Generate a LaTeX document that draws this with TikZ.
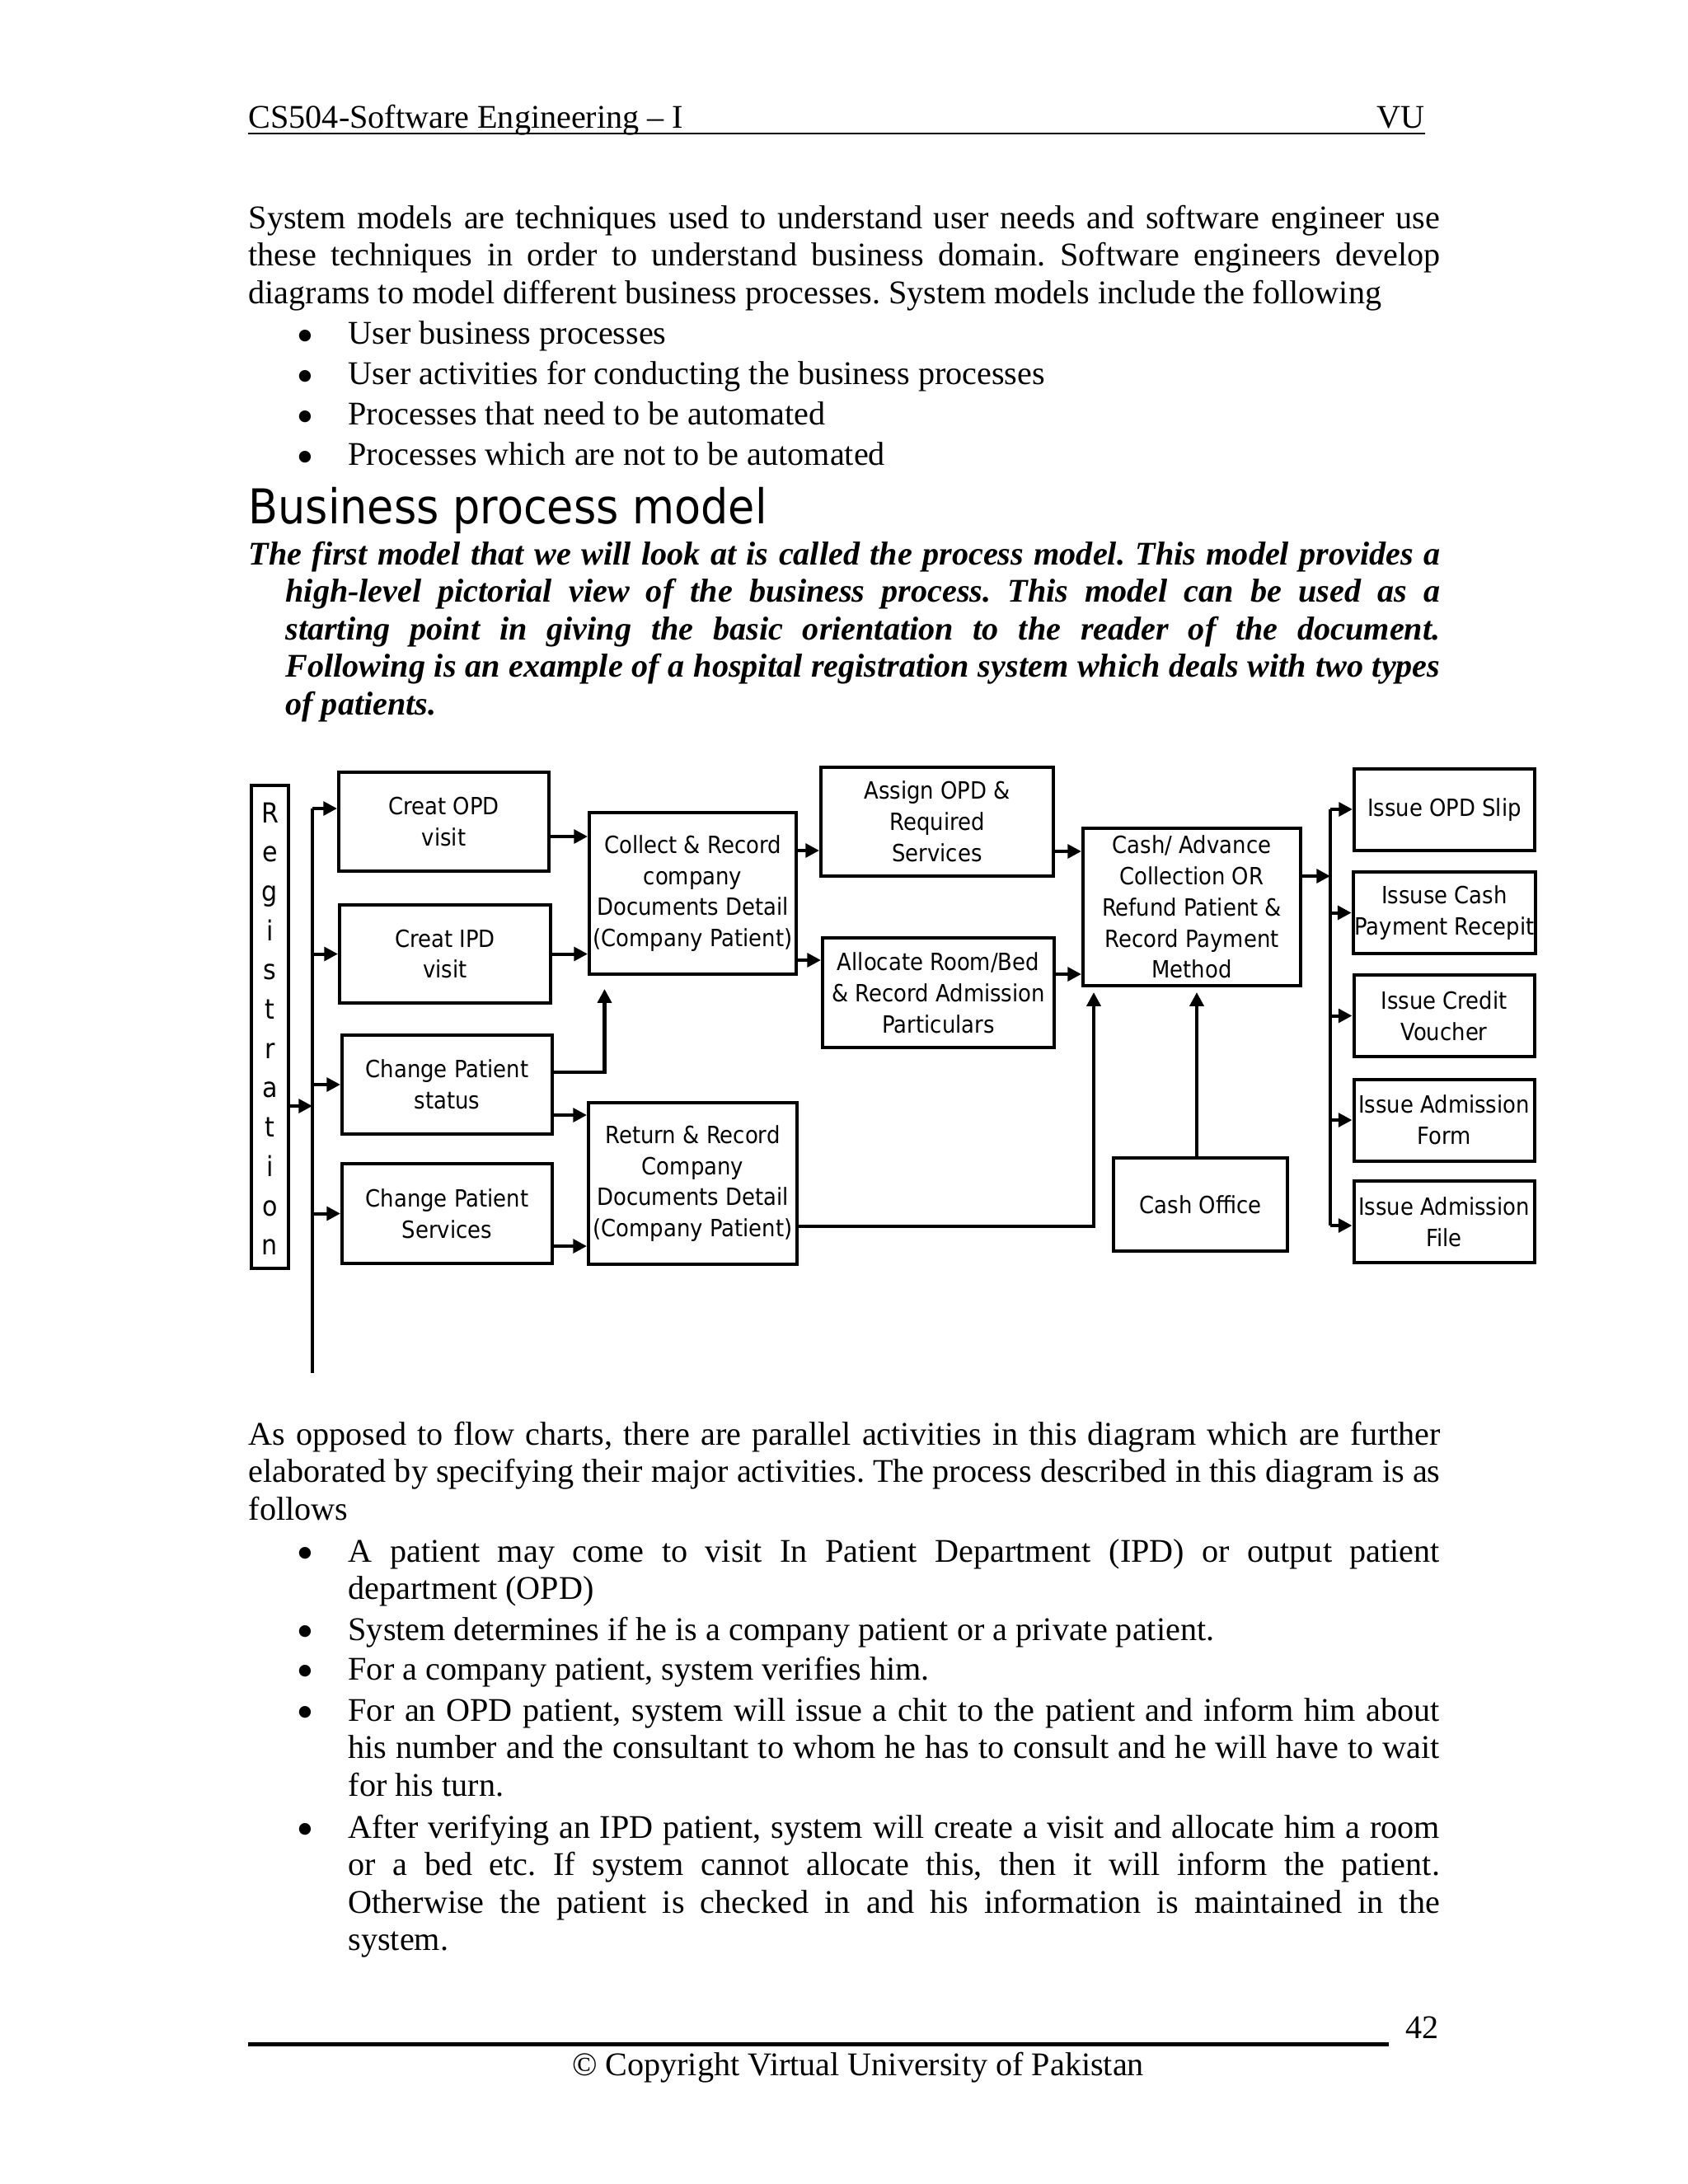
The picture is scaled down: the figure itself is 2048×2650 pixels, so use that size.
\documentclass[tikz,border=0pt]{standalone}
\usepackage{fontspec}
\setmainfont{Liberation Serif}
\newfontfamily\diagfont[FakeStretch=0.9]{DejaVu Sans}
\newfontfamily\dotfont{DejaVu Sans}
\usetikzlibrary{positioning, arrows.meta, calc}
\newdimen\pxu \pxu=0.29883pt

\begin{document}
\frenchspacing
\begin{tikzpicture}[
    x=0.29883pt, y=-0.29883pt,
    >={Triangle[length=5pt,width=5pt]},
    wire/.style={line width=1.2pt},
    arr/.style={wire, ->},
    procbox/.style={draw, line width=1.2pt, align=center, inner xsep=0.5pt, inner ysep=1pt, font=\diagfont\fontsize{8.6}{11.3}\selectfont},
    issuebox/.style={procbox, minimum width=219*\pxu, minimum height=99*\pxu},
    regletter/.style={font=\diagfont\fontsize{10}{12}\selectfont, inner sep=0pt, anchor=base},
    bodytext/.style={anchor=base west, inner sep=0pt, text width=432pt, align=justify, font=\fontsize{12}{13.6}\selectfont},
    itemtext/.style={bodytext, text width=395.7pt},
    bulletdot/.style={anchor=center, inner sep=0pt, font=\dotfont\fontsize{5.6}{7}\selectfont}
]
\useasboundingbox (0,0) rectangle (2048,2650);

% page header
\node[anchor=base west, inner sep=0pt, font=\fontsize{12}{13.6}\selectfont] (hdleft) at (301,155) {CS504-Software Engineering – I};
\node[anchor=base east, inner sep=0pt, font=\fontsize{12}{13.6}\selectfont] (hdright) at (1729,155) {VU};
\draw[line width=0.6pt] (301,162) -- (1729,162);

% opening text
\node[bodytext] (intro) at (301,277) {System models are techniques used to understand user needs and software engineer use\linebreak these techniques in order to understand business domain. Software engineers develop\linebreak diagrams to model different business processes. System models include the following};
\foreach \txt [count=\i] in {User business processes, User activities for conducting the business processes, Processes that need to be automated, Processes which are not to be automated} {
    \node[bulletdot] (dot-\i) at (370,{408+49*(\i-1)}) {●};
    \node[itemtext] (item-\i) at (422,{417+49*(\i-1)}) {\txt};
}

\node[anchor=base west, inner sep=0pt, font=\diagfont\fontsize{17.4}{20}\selectfont] (title) at (301,635) {Business process model};
\node[bodytext, font=\fontsize{12}{13.6}\selectfont\bfseries\itshape] (lead) at (301,685) {\hangindent=13.4pt\hangafter=1 The first model that we will look at is called the process model. This model provides a\linebreak high-level pictorial view of the business process. This model can be used as a\linebreak starting point in giving the basic orientation to the reader of the document.\linebreak Following is an example of a hospital registration system which deals with two types\linebreak of patients.\par};

% 1. registration and first column
\node[procbox, minimum width=45*\pxu, minimum height=586*\pxu] (reg) at (327.5,1246) {};
\foreach \ch [count=\i] in {R,e,g,i,s,t,r,a,t,i,o,n}
    \node[regletter] (reg-\i) at (327.5,{998+47.7*(\i-1)}) {\ch};

\node[procbox, minimum width=255*\pxu, minimum height=120*\pxu] (opd) at (538.5,997) {Creat OPD\\visit};
\node[procbox, minimum width=256*\pxu, minimum height=119*\pxu] (ipd) at (540,1157.5) {Creat IPD\\visit};
\node[procbox, minimum width=255*\pxu, minimum height=120*\pxu] (status) at (542.5,1316) {Change Patient\\status};
\node[procbox, minimum width=255*\pxu, minimum height=121*\pxu] (services) at (542.5,1472.5) {Change Patient\\Services};

% 2. middle columns
\node[procbox, minimum width=251*\pxu, minimum height=196*\pxu] (collect) at (840.5,1084) {Collect \& Record\\company\\Documents Detail\\(Company Patient)};
\node[procbox, minimum width=253*\pxu, minimum height=196*\pxu] (return) at (840.5,1436) {Return \& Record\\Company\\Documents Detail\\(Company Patient)};
\node[procbox, minimum width=282*\pxu, minimum height=132*\pxu] (assign) at (1137,997) {Assign OPD \&\\Required\\Services};
\node[procbox, minimum width=281*\pxu, minimum height=133*\pxu] (alloc) at (1138.5,1204.5) {Allocate Room/Bed\\\& Record Admission\\Particulars};
\node[procbox, minimum width=264*\pxu, minimum height=191*\pxu] (cash) at (1446,1100.5) {Cash/ Advance\\Collection OR\\Refund Patient \&\\Record Payment\\Method};
\node[procbox, minimum width=211*\pxu, minimum height=113*\pxu] (office) at (1456.5,1461.5) {Cash Office};

% 3. issue column
\node[issuebox] (slip) at (1752.5,982.5) {Issue OPD Slip};
\node[issuebox] (receipt) at (1752.5,1107.5) {Issuse Cash\\Payment Recepit};
\node[issuebox] (voucher) at (1752,1232.5) {Issue Credit\\Voucher};
\node[issuebox] (form) at (1752,1359) {Issue Admission\\Form};
\node[issuebox] (file) at (1752,1482.5) {Issue Admission\\File};

% 4. buses
\coordinate (bustop) at (379,981);
\coordinate (busbot) at (379,1666);
\coordinate (rbustop) at (1614,982);
\coordinate (rbusbot) at (1614,1487);
\draw[wire] (bustop) -- (busbot);
\draw[wire] (rbustop) -- (rbusbot);

\draw[arr] ($(reg.east)+(0,96)$) coordinate (r1) -- (r1 -| bustop);
\draw[arr] (bustop) -- (bustop -| opd.west);
\draw[arr] (ipd.west -| bustop) -- (ipd.west);
\draw[arr] (status.west -| bustop) -- (status.west);
\draw[arr] (services.west -| bustop) -- (services.west);

% 5. flows between boxes
\draw[arr] ($(opd.east)+(0,18)$) coordinate (a1) -- (a1 -| collect.west);
\draw[arr] (ipd.east) -- (ipd.east -| collect.west);
\draw[arr] ($(status.east)+(0,-15)$) -| ($(collect.south west)+(20.5,16)$);
\draw[arr] ($(status.east)+(0,37)$) coordinate (a2) -- (a2 -| return.west);
\draw[arr] ($(services.east)+(0,39.5)$) coordinate (a3) -- (a3 -| return.west);
\draw[arr] ($(collect.east)+(0,-52)$) coordinate (a4) -- (a4 -| assign.west);
\draw[arr] ($(collect.east)+(0,81)$) coordinate (a5) -- (a5 -| alloc.west);
\draw[arr] ($(assign.east)+(0,36)$) coordinate (a6) -- (a6 -| cash.west);
\draw[arr] ($(alloc.east)+(0,-22.5)$) coordinate (a7) -- (a7 -| cash.west);
\draw[arr] ($(return.east)+(0,52)$) -| ($(cash.south west)+(15,6)$);
\draw[arr] ($(office.north)+(-4.5,0)$) coordinate (a8) -- ($(a8 |- cash.south)+(0,6)$);
\draw[arr] ($(cash.east)+(0,-37.5)$) coordinate (a9) -- (a9 -| rbustop);

\draw[arr] (rbustop) -- (rbustop -| slip.west);
\draw[arr] (receipt.west -| rbustop) -- (receipt.west);
\draw[arr] (voucher.west -| rbustop) -- (voucher.west);
\draw[arr] (form.west -| rbustop) -- (form.west);
\draw[arr] (rbusbot) -- (rbusbot -| file.west);

% closing text
\node[bodytext] (after) at (301,1753) {As opposed to flow charts, there are parallel activities in this diagram which are further\linebreak elaborated by specifying their major activities. The process described in this diagram is as\linebreak follows};

\node[bulletdot] (dot-a) at (370,1885) {●};
\node[itemtext] (step-a) at (422,1895) {A patient may come to visit In Patient Department (IPD) or output patient\linebreak department (OPD)};
\node[bulletdot] (dot-b) at (370,1980) {●};
\node[itemtext] (step-b) at (422,1990) {System determines if he is a company patient or a private patient.};
\node[bulletdot] (dot-c) at (370,2028) {●};
\node[itemtext] (step-c) at (422,2038) {For a company patient, system verifies him.};
\node[bulletdot] (dot-d) at (370,2078) {●};
\node[itemtext] (step-d) at (422,2088) {For an OPD patient, system will issue a chit to the patient and inform him about\linebreak his number and the consultant to whom he has to consult and he will have to wait\linebreak for his turn.};
\node[bulletdot] (dot-e) at (370,2220) {●};
\node[itemtext] (step-e) at (422,2230) {After verifying an IPD patient, system will create a visit and allocate him a room\linebreak or a bed etc. If system cannot allocate this, then it will inform the patient.\linebreak Otherwise the patient is checked in and his information is maintained in the\linebreak system.};

% page footer
\node[anchor=base east, inner sep=0pt, font=\fontsize{12}{13.6}\selectfont] (pageno) at (1746,2473) {42};
\draw[line width=1.5pt] (301,2480) -- (1685,2480);
\node[anchor=base, inner sep=0pt, font=\fontsize{12}{13.6}\selectfont] (copy) at (1041,2518) {© Copyright Virtual University of Pakistan};
\end{tikzpicture}
\end{document}
